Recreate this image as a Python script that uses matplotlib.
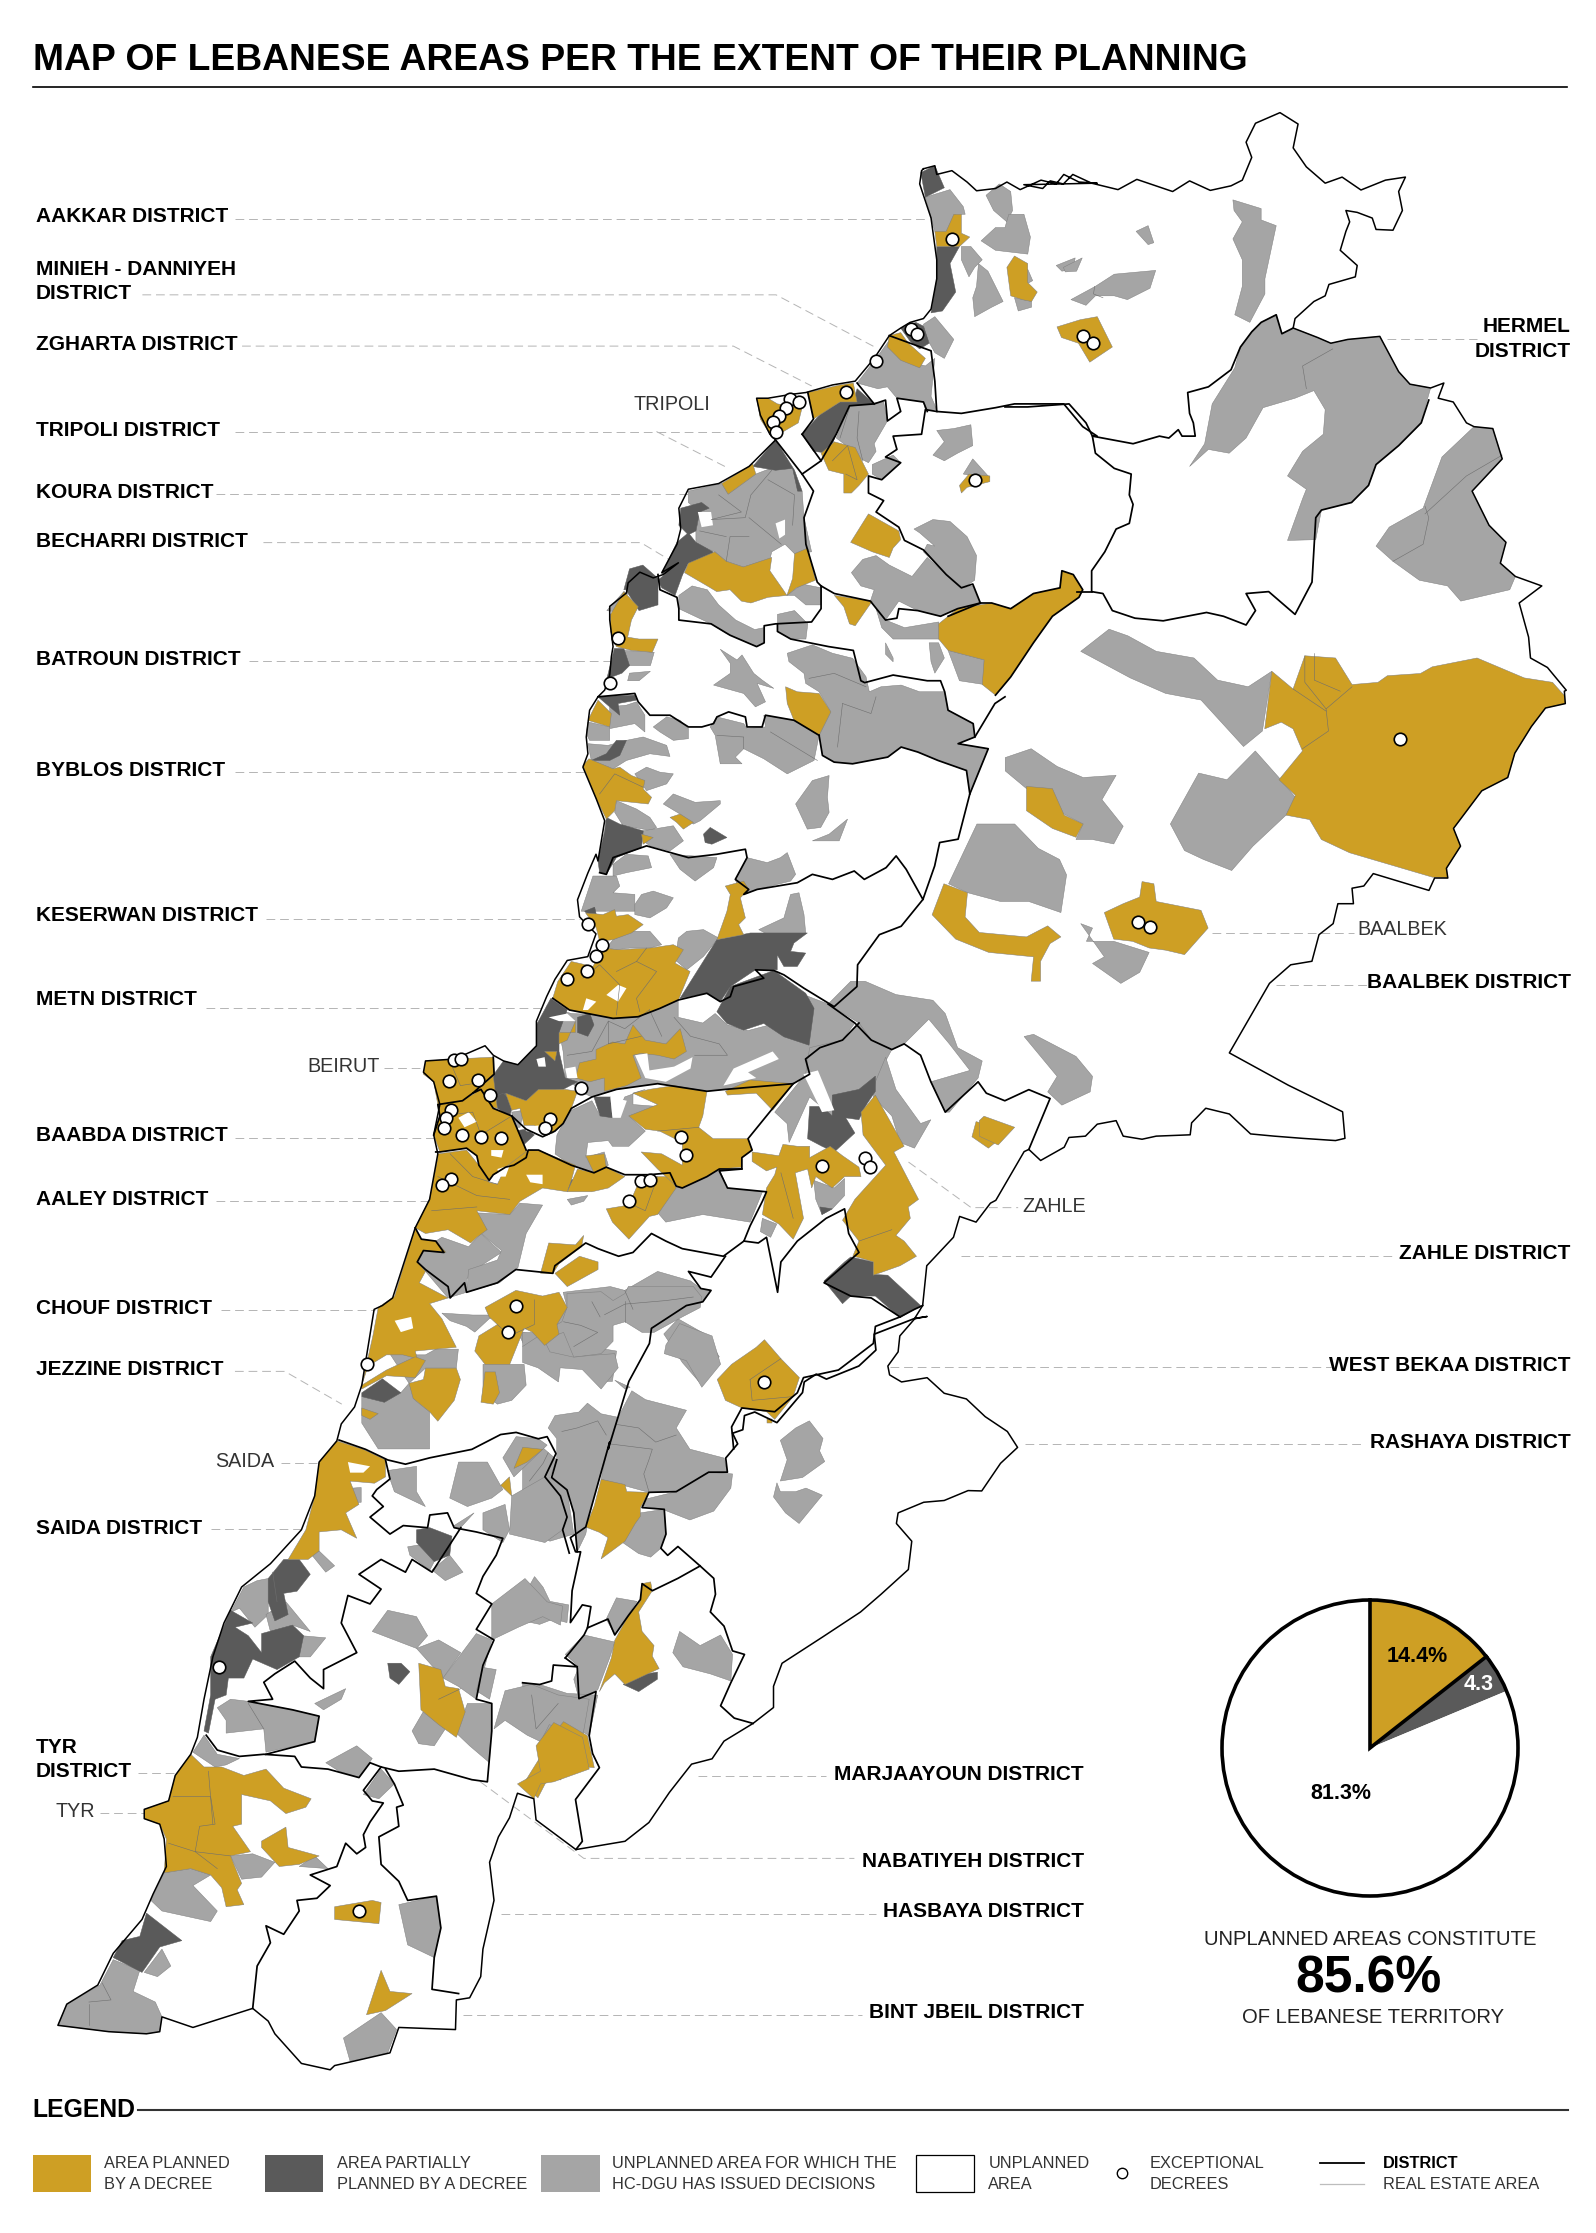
import numpy as np
import matplotlib
matplotlib.use("Agg")
import matplotlib.pyplot as plt
from matplotlib.patches import Polygon, Rectangle, Circle

FONT = ['Liberation Sans', 'DejaVu Sans']
plt.rcParams['font.family'] = FONT

GOLD = '#CE9F24'; DARK = '#5A5A5A'; GREY = '#A5A5A5'

# pie values (%)
PIE_LABELS = ['14.4%', '4.3', '81.3%']
PIE_VALUES = [14.4, 4.3, 81.3]

TITLE = 'MAP OF LEBANESE AREAS PER THE EXTENT OF THEIR PLANNING'

# map reference frames: origin x, origin y, scale x, scale y
FRAMES = {'a': (500, 100, 2.65, 2.65), 'b': (1000, 100, 2.668, 2.65), 'c': (850, 560, 2.13, 2.27),
          'g': (360, 850, 2.446, 2.65), 'e': (40, 1400, 2.27, 2.373), 'd': (520, 1280, 2.944, 2.84),
          'f': (500, 560, 3.0, 3.0)}
MAP_ZOOM = 1.005

OUTLINE = [
 ('a', [(1110,180),(1140,172),(1145,195),(1185,185),(1225,215),(1250,238),(1300,232),(1330,215),(1365,235),(1420,210),(1460,220),(1480,195),(1520,215),(1568,218)]),
 ('b', [(50,222),(100,232),(120,212),(155,220),(180,195),(230,218),(300,235),(350,208),(400,225),(445,240),(490,212),(545,237),(600,225),(630,210),(655,150),(640,110),(665,60),(730,32),(778,62),(765,125),(800,175),(850,218),(895,202),(945,236),(1010,210),(1063,202),(1045,240),(1055,290),(1030,342),(985,340),(975,310),(935,295),(905,290),(915,320),(905,345),(890,395),(935,435),(930,465),(860,485),(850,515),(820,530),(770,575),(765,600),(830,625),(865,640),(910,630),(995,622),(1045,715),(1075,748),(1130,758),(1165,745),(1150,785),(1190,795),(1225,850),(1245,860),(1295,865),(1320,945),(1240,1030),(1285,1120),(1330,1165),(1315,1220),(1355,1255),(1425,1280),(1365,1325),(1390,1415),(1395,1470),(1440,1495),(1490,1555)]),
 ('c', [(1505,290),(1507,318),(1465,328),(1435,370),(1400,430),(1385,485),(1330,515),(1270,600),(1285,640),(1255,690),(1258,712),(1230,712),(1218,740),(1100,702),(1080,730),(1055,735),(1058,770),(1025,770),(1015,815),(985,840),(970,900),(925,908),(880,950),(795,1107),(920,1180),(1035,1240),(1040,1300),(1020,1305),(950,1300),(890,1295),(840,1290),(795,1245),(745,1232),(715,1265),(712,1292),(640,1295),(610,1302),(570,1295),(555,1260),(515,1268),(490,1295),(455,1298),(445,1320),(395,1350),(370,1325),(360,1330),(300,1440)]),
 ('g', [(1530,920),(1495,970),(1455,955),(1440,1010),(1375,1085),(1365,1190),(1345,1225)]),
 ('d', [(1185,85),(1150,90),(1105,140),(1100,185),(1070,225),(1075,250),(1110,270),(1185,258),(1235,302),(1300,318),(1355,368),(1420,410),(1450,455),(1400,500),(1345,578),(1305,577),(1235,605),(1175,610),(1100,640),(1095,670),(1140,720),(1130,800),(1050,870),(990,920),(880,990),(760,1065),(735,1130),(735,1190),(675,1235),(590,1285),(555,1335),(495,1350),(430,1430),(370,1515),(300,1568)]),
 ('e', [(1210,1045),(1120,975),(1115,925),(1078,912),(1060,970),(1035,1015),(1015,1075),(1025,1165),(1000,1280),(995,1345),(970,1395),(940,1400),(938,1470),(810,1465),(790,1525),(665,1555),(655,1565),(590,1550),(530,1480),(515,1450),(480,1420),(345,1465),(275,1440),(270,1475),(240,1480),(155,1475),(40,1460),(60,1410),(130,1365),(165,1290),(230,1210),(255,1150),(285,1085),(280,1020),(270,985),(235,972),(235,950),(290,930),(305,870),(340,820),(355,780),(370,690),(390,590),(415,510),(455,425),(520,370),(590,290),(620,210),(630,130),(670,80),(680,40),(710,0)]),
 ('g', [(0,1400),(30,1200),(50,1190),(75,1170),(130,985),(165,910),(185,790),(175,740),(190,660),(175,600),(150,575),(155,545),(225,540),(300,505),(320,530),(345,545),(380,555),(425,505),(425,440),(450,375),(470,330),(500,280),(550,270),(570,210),(530,165),(525,120),(550,50),(570,0)]),
 ('f', [(285,890),(305,770),(280,705),(240,610),(255,570),(250,520),(260,440),(285,400),(305,380),(320,335),(325,280),(330,250),(320,170),(320,130),(370,90),(375,60),(410,28),(450,45),(480,35),(525,0)]),
 ('a', [(420,1245),(460,1170),(470,1130),(465,1075),(490,1025),(570,1010),(650,965),(700,915),(720,895),(705,880),(680,830),(670,785),(700,785),(760,775),(800,770),(870,750),(930,740),(980,680),(1020,620),(1050,600),(1075,585),(1110,575),(1130,550),(1145,470),(1145,420),(1130,310),(1100,220),(1105,185),(1110,180)]),
]

DISTRICTS = [
 [('a',[(1020,620),(1130,660),(1140,740),(1145,820),(1210,825),(1300,810),(1350,800),(1480,800),(1530,860),(1568,885)]),
  ('b',[(232,885),(340,905),(410,885),(435,890),(460,868),(470,885),(505,885),(500,850),(490,825),(485,770),(540,755),(600,710),(625,650),(655,610),(680,585),(720,565),(735,615),(765,600)])],
 [('b',[(0,808),(60,808),(170,800),(215,850),(232,885),(240,930),(290,970),(335,985),(330,1040),(340,1065),(330,1115),(295,1130),(265,1190),(230,1240),(230,1295),(260,1300),(285,1345),(345,1365),(420,1372),(535,1350),(580,1360),(640,1383),(665,1345),(640,1300),(700,1295),(770,1355),(815,1270),(825,1100),(840,1080),(920,1060),(965,1015),(985,960),(1045,910),(1105,850),(1125,790)])],
 [('a',[(1145,820),(1115,815),(1105,880),(1030,885),(1040,920),(1010,940),(1050,955),(1000,1000),(965,990),(965,1035),(1005,1055),(985,1085),(1045,1125),(1060,1160),(1110,1185),(1170,1250),(1210,1285),(1240,1275),(1260,1325),(1200,1340),(1155,1360),(1095,1345),(1045,1340),(1040,1365),(1010,1370),(970,1320),(875,1300),(840,1280),(840,1340),(815,1375),(720,1380),(690,1385),(690,1430),(670,1440),(600,1410),(550,1380),(465,1370),(465,1340),(460,1310),(415,1290),(410,1250)])],
 [('a',[(720,895),(790,985),(820,1030),(795,1100),(800,1170),(830,1270),(840,1280)])],
 [('a',[(790,985),(840,950)])],
 [('a',[(790,880),(840,950),(880,880),(915,805),(980,800),(1010,790),(1015,845),(1050,820),(1040,785),(1110,795),(1120,820)])],
 [('a',[(805,770),(820,840),(790,880)])],
 [('a',[(935,745),(980,800)])],
 [('a',[(1260,1325),(1290,1325),(1340,1340),(1400,1300),(1470,1285),(1475,1240),(1505,1250),(1530,1290),(1520,1310),(1450,1360),(1400,1430),(1340,1520),(1300,1568)])],
 [('b',[(190,1295),(230,1295)])],
 [('a',[(725,1380),(725,1400),(760,1420),(860,1440),(925,1450),(945,1530),(955,1535),(1030,1515),(1120,1530),(1155,1530)]),
  ('f',[(1320,385),(1330,440),(1405,480),(1410,520),(1360,540),(1450,555),(1395,690)])],
 [('f',[(1410,520),(1470,420),(1500,400)])],
 [('f',[(945,515),(870,470),(785,455),(775,490),(730,490),(725,460),(675,445),(640,460),(630,480),(595,490),(555,490),(500,455),(440,455),(405,415),(395,390),(285,400)])],
 [('f',[(945,515),(955,575),(990,595),(1045,600),(1150,580),(1190,550),(1240,565),(1300,590),(1385,620),(1395,690),(1360,825),(1305,835),(1290,905),(1255,1005),(1205,915),(1175,875),(1145,910),(1080,945),(1050,920),(985,945),(925,930),(880,955),(760,975),(720,990),(735,975),(695,945),(730,880),(725,855),(640,870),(555,880),(430,845),(330,880),(310,930),(290,925)])],
 [('f',[(1255,1005),(1190,1085),(1125,1110),(1060,1200),(1058,1265),(990,1325),(900,1270),(840,1230),(810,1217),(755,1215),(780,1240),(690,1265),(680,1295),(650,1310),(610,1285),(525,1305),(470,1330),(405,1355),(330,1360),(200,1335),(150,1300)])],
 [('g',[(1135,395),(1200,445),(1240,490),(1290,515),(1320,500),(1360,530),(1385,600),(1420,680),(1500,600),(1520,630),(1565,650)]),
  ('c',[(370,1190),(415,1210),(370,1325)])],
 [('g',[(1210,445),(1170,490),(1115,510),(1080,540),(1090,580),(1050,605),(885,620),(840,625),(720,605),(620,620),(560,640),(510,670),(490,710),(470,730),(440,745),(400,725),(365,690),(320,670),(290,620),(270,630),(322,580),(320,535)])],
 [('g',[(1050,605),(1000,670),(940,750),(950,780),(925,800),(925,830),(870,830),(840,850),(780,880),(765,875),(750,840),(700,845),(640,845),(595,825),(565,840),(510,820),(430,780),(405,780),(400,800),(370,820),(350,825),(320,845),(310,860),(285,820),(280,795),(255,775),(190,785),(180,785)])],
 [('g',[(270,630),(245,650),(185,660),(190,690),(175,740)])],
 [('g',[(365,690),(400,780)])],
 [('g',[(925,830),(870,835),(890,880),(985,890),(975,915),(945,980),(930,1020),(905,1040),(880,1060),(780,1040),(740,1020),(705,1000),(660,1050),(625,1060),(575,1040),(545,1025),(470,1085),(465,1105),(375,1095),(330,1130),(255,1155),(250,1130),(215,1170),(210,1140),(155,1095),(135,1075),(150,1045),(200,1050),(180,1020),(145,1015),(130,985)])],
 [('g',[(885,1060),(850,1115),(795,1100),(825,1145),(850,1150),(830,1180),(790,1190),(705,1250),(700,1290),(650,1390),(600,1568)]),
  ('d',[(255,440),(185,680),(140,710),(155,750),(170,750),(145,860),(140,950),(175,900),(200,905),(190,965),(250,940),(270,985),(310,930),(345,885),(350,840),(380,860),(455,825),(520,790)])],
 [('g',[(930,1020),(965,1025),(985,1010),(1012,1155),(1020,1075),(1060,1020),(1130,960),(1175,935),(1185,1000),(1210,1050),(1125,1130),(1190,1165),(1240,1170),(1310,1220),(1345,1200),(1365,1190)])],
 [('g',[(1310,1220),(1250,1245),(1245,1290),(1160,1360),(1075,1380),(1060,1420),(1005,1470),(925,1460),(900,1510),(905,1568)])],
 [('d',[(1150,90),(1030,135),(1035,180),(985,225),(890,262),(860,248),(825,270),(820,300),(745,385),(680,355),(650,365),(645,405),(615,415),(630,445),(595,485),(600,525),(545,525),(450,580),(370,582),(350,625),(415,630),(420,700),(405,740),(425,760),(455,735),(520,790),(560,825),(565,870),(550,920),(590,960),(615,1030),(650,1040),(610,1120),(580,1185),(620,1220),(675,1235)])],
 [('d',[(125,1050),(160,1075),(90,1070),(85,1115),(50,1125),(0,1120)])],
 [('d',[(125,1050),(180,985),(190,965)])],
 [('d',[(160,1075),(165,1165),(215,1145),(195,1270),(205,1320),(225,1360),(155,1450),(175,1568)]),
  ('e',[(1210,1045)])],
 [('d',[(100,490),(85,540),(130,575),(150,640),(160,750)])],
 [('e',[(675,78),(735,100),(785,125),(825,135),(880,120),(975,100),(1040,65),(1075,60),(1125,75),(1145,70),(1165,110),(1140,165),(1175,210),(1190,260),(1180,290),(1195,345)])],
 [('e',[(780,125),(790,170),(760,195),(750,210),(775,235),(745,260),(790,300),(820,280),(875,285),(880,255),(920,250),(935,285),(985,295),(1045,310),(1030,350),(1000,400),(985,440),(1020,465),(985,525),(1025,550),(1000,610),(985,690),(1020,700),(1020,765),(1010,885),(975,880),(890,855),(810,860),(770,850),(745,840),(720,875),(650,855),(590,850),(575,825),(505,820),(450,825),(400,810),(375,775)])],
 [('e',[(950,285),(885,390),(840,360),(825,390),(770,360),(720,395),(770,430),(745,465),(695,445),(680,510),(715,580),(640,620),(640,665),(610,640),(575,600),(530,630),(505,650),(525,690),(470,695),(570,715),(630,730),(620,790),(510,820)])],
 [('e',[(770,850),(730,905),(750,930),(775,935),(745,980),(730,1010),(735,1040),(715,1055),(690,1030),(670,1085),(610,1105),(655,1130),(625,1160),(580,1165),(585,1190),(550,1245),(510,1225),(520,1265),(490,1320),(480,1420)])],
 [('e',[(780,855),(800,890),(820,940),(805,945),(810,990),(765,1015),(770,1080),(810,1120),(830,1165),(895,1155),(905,1230),(890,1300),(885,1375),(945,1385)])],
 [('a',[(1175,1360),(1260,1325)])],
]

GREY_AREAS = [
 ('a',[(1115,255),(1180,235),(1215,280),(1220,300),(1195,300),(1170,345),(1140,345)]),
 ('a',[(1275,250),(1310,220),(1340,240),(1345,290),(1330,320),(1295,290)]),
 ('a',[(1335,300),(1375,300),(1392,360),(1385,405),(1300,395),(1262,370),(1300,335),(1325,335)]),
 ('a',[(1210,385),(1235,385),(1265,420),(1245,440),(1230,465),(1210,420)]),
 ('a',[(1255,430),(1280,450),(1320,530),(1290,545),(1245,570),(1240,520),(1250,490)]),
 ('a',[(1365,450),(1385,445),(1398,475),(1380,485),(1370,470)]),
 ('a',[(1350,520),(1395,530),(1395,545),(1360,555)]),
 ('a',[(1460,435),(1510,415),(1505,445),(1475,450)]),
 ('a',[(935,745),(985,680),(1018,635),(1045,680),(1115,700),(1140,680),(1130,780),(1145,815),(1115,815),(1110,795),(1040,785),(1015,755),(990,760)]),
 ('a',[(1110,590),(1140,570),(1190,630),(1165,680),(1140,665),(1115,620)]),
 ('a',[(915,805),(1005,795),(1015,845),(980,905),(985,925),(965,955),(935,940),(900,905),(880,890)]),
 ('a',[(975,960),(1030,935),(1050,955),(1000,1000),(975,985)]),
 ('a',[(490,1030),(578,1010),(595,1038),(668,985),(720,965),(765,970),(780,1030),(790,1030),(795,1100),(815,1190),(770,1195),(745,1170),(710,1190),(705,1210),(635,1230),(590,1215),(560,1190),(510,1170),(510,1135),(520,1085),(490,1060)]),
 ('a',[(275,1345),(320,1295),(330,1300),(310,1350)]),
 ('a',[(465,1305),(500,1280),(540,1290),(570,1330),(615,1370),(665,1395),(690,1390),(690,1430),(670,1440),(590,1405),(550,1380),(465,1340)]),
 ('a',[(750,1305),(790,1275),(840,1285),(840,1330),(800,1330),(770,1305)]),
 ('a',[(1085,1130),(1135,1105),(1180,1110),(1225,1150),(1250,1200),(1245,1265),(1215,1285),(1170,1250),(1110,1190),(1120,1170),(1140,1175),(1100,1140)]),
 ('a',[(920,1245),(950,1210),(985,1200),(1020,1225),(1080,1255),(1120,1205),(1170,1250),(1210,1285),(1240,1280),(1260,1330),(1200,1340),(1155,1360),(1095,1345),(1045,1320),(1010,1370),(970,1320),(980,1290),(945,1280)]),
 ('a',[(1145,870),(1190,865),(1235,855),(1240,910),(1200,930),(1165,950),(1135,935),(1165,900)]),
 ('a',[(1215,985),(1240,945),(1285,995),(1245,990)]),
 ('a',[(320,1450),(400,1455),(390,1490),(330,1490)]),
 ('a',[(335,1510),(390,1505),(360,1530),(330,1530)]),
 ('a',[(985,1340),(1010,1370),(1060,1390),(1150,1375),(1155,1420),(1060,1420),(1030,1420),(1000,1390)]),
 ('a',[(1125,1430),(1150,1430),(1165,1470),(1140,1510),(1130,1480)]),
 ('a',[(1010,1430),(1030,1470),(1030,1480),(1010,1460)]),
 ('a',[(1175,1450),(1270,1475),(1270,1540),(1205,1530)]),
 ('a',[(725,1355),(770,1345),(805,1380),(800,1420),(760,1420),(725,1400)]),
 ('f',[(650,258),(700,290),(715,275),(750,330),(775,350),(810,375),(760,360),(785,415),(755,430),(720,390),(630,365),(680,330),(680,300)]),
 ('f',[(450,490),(490,460),(530,470),(555,495),(555,525),(510,530),(470,505)]),
 ('f',[(620,490),(640,460),(720,480),(730,495),(785,490),(780,455),(870,470),(945,515),(930,590),(850,630),(780,585),(720,555),(695,580),(715,600),(650,600),(635,515)]),
 ('f',[(850,270),(925,245),(985,270),(1045,285),(1085,340),(1095,385),(1130,370),(1190,365),(1245,385),(1320,385),(1330,440),(1405,480),(1410,520),(1360,540),(1450,555),(1395,690),(1385,620),(1300,590),(1240,565),(1190,550),(1150,580),(1045,600),(990,595),(955,575),(945,515),(980,445),(945,385),(905,360),(900,330),(855,295)]),
 ('f',[(320,430),(370,425),(400,415),(425,455),(425,505),(395,480),(320,495)]),
 ('f',[(255,475),(320,490),(320,530),(260,530),(250,510)]),
 ('f',[(255,540),(315,545),(370,530),(420,520),(490,545),(500,578),(440,570),(370,590),(330,615),(265,590)]),
 ('f',[(395,630),(430,610),(470,625),(510,630),(490,660),(430,680)]),
 ('f',[(340,710),(400,735),(440,760),(460,790),(440,800),(420,795),(360,785),(335,745)]),
 ('f',[(420,800),(510,785),(540,830),(500,860),(440,845),(420,830)]),
 ('f',[(480,720),(510,690),(575,715),(650,710),(650,720),(590,770),(570,780),(530,750)]),
 ('f',[(875,720),(925,650),(975,635),(970,700),(975,745),(950,790),(910,795)]),
 ('f',[(925,830),(975,810),(1030,765),(1005,830)]),
 ('f',[(330,900),(370,870),(435,875),(445,910),(370,925),(330,935)]),
 ('f',[(500,870),(640,880),(630,910),(575,950),(530,915)]),
 ('f',[(695,945),(730,880),(790,895),(830,880),(850,865),(875,930),(860,950),(760,975),(720,990),(700,960)]),
 ('f',[(765,1095),(840,1060),(860,990),(885,985),(900,1050),(905,1105),(820,1125)]),
 ('f',[(525,1120),(550,1100),(600,1095),(645,1120),(600,1175),(550,1215),(515,1185)]),
 ('f',[(235,1040),(270,935),(340,935),(350,965),(330,985),(395,990),(395,1040),(340,1040),(280,1040)]),
 ('f',[(395,1020),(415,990),(450,980),(510,1000),(490,1030),(440,1060),(395,1050)]),
 ('f',[(330,1125),(385,1100),(440,1100),(475,1140),(440,1150),(380,1150),(340,1155),(310,1150)]),
 ('g',[(450,400),(510,420),(620,425),(690,405),(770,385),(770,430),(830,445),(860,420),(890,450),(940,465),(1010,445),(1080,495),(1060,440),(1075,370),(1135,395),(1200,445),(1170,490),(1115,510),(1085,540),(1090,580),(1050,605),(885,620),(840,625),(720,605),(620,620),(560,640),(530,625),(510,600),(495,590),(490,520),(480,465)]),
 ('g',[(1135,395),(1190,335),(1225,335),(1300,370),(1390,385),(1420,420),(1450,510),(1510,545),(1500,590),(1430,680),(1420,680),(1385,600),(1480,570),(1430,500),(1380,435),(1320,500),(1290,515),(1240,490),(1210,445)]),
 ('g',[(365,680),(395,675),(385,720),(370,720)]),
 ('g',[(385,860),(420,870),(385,880)]),
 ('g',[(400,800),(430,810),(445,840),(415,845)]),
 ('g',[(490,710),(510,675),(560,650),(580,690),(620,690),(640,640),(690,620),(660,630),(660,660),(720,665),(650,690),(690,730),(650,770),(610,770),(600,755),(550,760),(545,800),(590,785),(600,820),(565,840),(510,820),(470,790),(475,740)]),
 ('g',[(720,945),(750,880),(790,875),(840,850),(870,830),(890,880),(975,890),(945,970),(830,950),(740,970)]),
 ('g',[(1005,680),(1080,580),(1090,510),(1170,490),(1210,445),(1240,490),(1290,515),(1270,555),(1215,690),(1190,680),(1145,690),(1090,640),(1040,760),(1035,710)]),
 ('g',[(1275,535),(1300,620),(1360,710),(1385,700),(1345,775),(1310,760),(1290,690),(1245,640),(1250,600)]),
 ('g',[(1100,860),(1150,880),(1175,855),(1175,900),(1145,935),(1120,950),(1105,910)]),
 ('g',[(975,960),(1010,975),(995,1010),(970,995)]),
 ('g',[(735,1265),(770,1225),(835,1265),(870,1325),(820,1390),(780,1340)]),
 ('g',[(135,1075),(150,1045),(205,1050),(180,1020),(195,1010),(260,1035),(290,1000),(340,1050),(290,1085),(255,1120),(255,1155),(210,1170),(155,1100)]),
 ('g',[(270,945),(360,950),(385,920),(440,925),(400,1000),(380,1090),(335,1130),(255,1155),(260,1095),(330,1070),(340,1045),(280,990),(305,990)]),
 ('g',[(500,910),(550,900),(540,915),(510,925)]),
 ('g',[(490,1155),(605,1140),(640,1150),(720,1100),(800,1125),(825,1145),(850,1150),(830,1180),(790,1190),(705,1250),(640,1220),(600,1240),(565,1300),(620,1310),(610,1390),(580,1390),(520,1330),(475,1340),(470,1370),(430,1340),(395,1295),(380,1260),(420,1265),(445,1295),(480,1265),(470,1240),(500,1195)]),
 ('g',[(195,1210),(270,1215),(330,1215),(310,1225),(275,1260),(255,1245),(215,1230)]),
 ('g',[(295,1345),(360,1345),(395,1345),(400,1400),(365,1440),(330,1450),(295,1420)]),
 ('g',[(65,1270),(110,1255),(125,1320),(155,1320),(180,1305),(235,1305),(230,1355),(155,1355),(115,1395),(70,1320)]),
 ('g',[(0,1430),(55,1445),(95,1420),(115,1395),(130,1440),(165,1470),(165,1568),(40,1568),(0,1500)]),
 ('d',[(130,20),(230,15),(265,40),(300,20),(310,0),(500,0),(525,30),(520,60),(470,85),(385,130),(350,130),(300,100),(265,110),(265,155),(230,190),(150,200),(120,130),(0,170),(0,130),(60,130),(115,100),(130,60)]),
 ('d',[(420,165),(460,105),(555,140),(580,220),(525,285),(480,210),(415,190)]),
 ('d',[(0,170),(55,135),(80,185),(150,200),(200,195),(270,190),(280,230),(230,290),(175,235),(110,230),(105,270),(45,230),(0,215)]),
 ('d',[(270,265),(315,285),(300,290)]),
 ('d',[(320,295),(360,320),(480,350),(450,400),(490,460),(590,485),(600,525),(545,525),(450,580),(370,582),(230,545),(250,450),(280,370)]),
 ('d',[(365,600),(450,580),(545,525),(615,530),(610,570),(560,635),(490,660),(410,630),(350,620)]),
 ('d',[(295,725),(345,640),(415,630),(420,700),(405,740),(375,765),(340,755)]),
 ('d',[(100,490),(85,540),(130,575),(150,640),(160,750),(185,700),(195,650),(250,450),(280,370),(230,360),(190,330),(165,355),(95,365),(75,400),(100,430)]),
 ('d',[(0,480),(40,440),(100,490),(80,540),(130,575),(150,700),(80,720),(0,680)]),
 ('d',[(755,435),(800,400),(840,380),(880,430),(870,465),(885,495),(820,540),(755,550),(775,490)]),
 ('d',[(735,595),(745,555),(755,580),(800,580),(830,570),(878,590),(810,670),(770,640)]),
 ('d',[(440,1035),(460,975),(520,1015),(580,985),(615,1040),(610,1115),(550,1095),(470,1075)]),
 ('d',[(245,940),(275,880),(335,890),(270,985)]),
 ('d',[(0,880),(35,820),(60,850),(80,890),(135,900),(130,950),(90,940),(50,955),(0,945)]),
 ('d',[(125,1040),(180,985),(270,1005),(255,1050),(220,1140),(165,1165),(150,1110),(165,1075)]),
 ('d',[(0,1120),(50,1125),(130,1150),(220,1155),(195,1270),(130,1230),(100,1240),(75,1285),(30,1255),(0,1200)]),
 ('e',[(660,195),(725,190),(725,225),(685,225)]),
 ('e',[(785,150),(850,140),(850,200),(870,235),(800,200),(790,170)]),
 ('e',[(925,215),(945,130),(1010,130),(1045,195),(1020,215),(965,235)]),
 ('e',[(1000,250),(1050,230),(1060,290),(1045,320),(1000,290)]),
 ('e',[(935,280),(980,250),(945,290)]),
 ('e',[(1065,210),(1140,165),(1175,210),(1190,260),(1180,290),(1140,320),(1060,300)]),
 ('e',[(1075,70),(1125,75),(1145,90),(1070,165),(1045,120)]),
 ('e',[(830,330),(860,325),(890,365),(880,385),(835,350)]),
 ('e',[(885,385),(925,350),(955,390),(915,410)]),
 ('e',[(610,345),(630,340),(665,375),(645,390)]),
 ('e',[(430,485),(460,425),(490,410),(515,405),(515,490),(485,520),(450,475)]),
 ('e',[(590,540),(645,545),(610,590),(585,590)]),
 ('e',[(510,490),(555,460),(610,530),(570,515),(520,530)]),
 ('e',[(620,700),(690,665),(680,690),(640,715)]),
 ('e',[(400,710),(430,690),(470,695),(570,715),(630,730),(620,790),(510,815),(505,760),(420,770),(420,740)]),
 ('e',[(345,815),(370,775),(400,820),(450,830),(420,845),(395,850)]),
 ('e',[(430,1060),(480,1055),(530,1075),(500,1110),(455,1115)]),
 ('e',[(585,1085),(620,1060),(650,1090)]),
 ('e',[(280,1100),(340,1090),(385,1105),(345,1130),(400,1190),(385,1215),(275,1190),(250,1165)]),
 ('e',[(235,1335),(275,1280),(295,1320),(265,1345)]),
 ('e',[(135,1365),(165,1305),(225,1330),(210,1380),(260,1405),(275,1440),(270,1475),(240,1480),(155,1475),(40,1460),(60,1410)]),
 ('e',[(810,1175),(895,1155),(905,1230),(890,1300),(830,1270)]),
 ('e',[(685,1490),(770,1430),(805,1470),(785,1525),(700,1545)]),
 ('e',[(750,530),(785,480),(850,495),(875,540),(850,570),(800,550)]),
 ('e',[(850,570),(900,550),(950,580),(910,640),(880,605)]),
 ('e',[(910,640),(985,535),(1020,550),(985,690),(945,660)]),
 ('e',[(840,765),(865,720),(915,760),(890,800),(855,795)]),
 ('e',[(940,770),(965,700),(1020,700),(1015,840),(970,800)]),
 ('e',[(985,670),(1000,615),(1030,620),(1015,690)]),
 ('e',[(1020,465),(1095,405),(1145,460),(1180,470),(1175,515),(1135,495),(1080,520),(1020,550)]),
 ('e',[(645,840),(715,800),(750,830),(720,875),(675,860)]),
 ('e',[(730,915),(770,855),(800,890),(765,925)]),
 ('e',[(1025,760),(1050,670),(1110,655),(1170,680),(1240,690),(1225,780),(1150,750),(1130,790),(1100,775),(1050,740)]),
 ('c',[(480,200),(540,150),(580,165),(640,200),(720,215),(770,265),(835,280),(885,245),(865,380),(825,415),(735,310),(660,295),(585,260)]),
 ('c',[(320,440),(375,420),(430,460),(485,485),(555,480),(525,535),(570,595),(550,635),(505,625),(470,625),(485,590),(440,565),(420,530),(365,510),(320,470)]),
 ('c',[(200,725),(260,590),(340,590),(390,645),(435,670),(450,705),(438,790),(370,765),(310,765),(240,745)]),
 ('c',[(480,815),(505,825),(492,855),(550,855),(625,880),(605,925),(565,950),(505,905),(530,890)]),
 ('c',[(670,590),(730,475),(790,490),(850,425),(900,485),(935,530),(915,570),(845,640),(800,695),(740,670),(700,650)]),
 ('c',[(360,1070),(380,1065),(470,1115),(505,1160),(500,1195),(440,1225),(410,1195),(430,1160)]),
 ('b',[(605,262),(680,285),(680,315),(720,330),(690,470),(690,510),(650,585),(610,565),(630,490),(630,420),(605,365),(630,320),(608,290)]),
 ('b',[(348,345),(380,330),(395,375),(380,380)]),
 ('b',[(155,440),(205,415),(190,450),(160,452)]),
 ('b',[(175,525),(240,490),(290,458),(400,448),(385,495),(325,525),(290,515),(240,515),(215,540)]),
 ('b',[(490,965),(530,905),(550,800),(610,705),(625,650),(655,610),(680,585),(720,565),(735,615),(765,600),(830,625),(865,640),(910,630),(995,622),(1045,715),(1075,748),(1130,758),(1115,810),(1105,850),(1045,910),(985,960),(965,1015),(920,1060),(840,1080),(825,1158),(750,1160),(790,1050),(800,1025),(750,990),(790,925),(845,880),(850,815),(820,765),(770,785),(685,810),(640,890),(595,930),(540,920)]),
 ('b',[(985,1175),(1020,1125),(1110,1075),(1160,940),(1245,860),(1295,865),(1320,945),(1240,1030),(1285,1120),(1330,1165),(1315,1220),(1355,1255),(1340,1290),(1210,1320),(1175,1280),(1100,1265),(1030,1215)]),
]

DARK_AREAS = [
 ('a',[(1103,190),(1140,172),(1165,230),(1115,255)]),
 ('a',[(1145,385),(1205,385),(1180,430),(1195,505),(1160,555),(1130,560),(1145,470)]),
 ('a',[(1050,600),(1090,585),(1110,595),(1125,640),(1100,655),(1075,635)]),
 ('a',[(935,760),(980,800),(915,805),(880,880),(860,930),(820,925),(790,880),(840,825),(890,795),(925,795)]),
 ('a',[(660,965),(720,895),(770,975),(790,1030),(778,1030),(765,970),(720,975)]),
 ('a',[(470,1075),(525,1060),(545,1075),(520,1085),(510,1135),(490,1145),(465,1120)]),
 ('a',[(460,1165),(490,1140),(510,1165),(555,1190),(555,1210),(490,1220),(475,1250),(420,1248)]),
 ('a',[(410,1265),(445,1235),(475,1250),(455,1305),(420,1285)]),
 ('a',[(320,1290),(335,1235),(370,1225),(410,1260),(410,1330),(360,1345),(325,1290)]),
 ('a',[(295,1445),(320,1445),(335,1490),(315,1510),(275,1525)]),
 ('f',[(285,400),(395,395),(400,410),(345,420),(350,455),(320,430)]),
 ('f',[(265,590),(310,570),(340,530),(370,530),(350,575),(320,590)]),
 ('f',[(310,760),(350,780),(420,800),(415,850),(340,880),(310,930),(290,925),(285,890),(305,800)]),
 ('f',[(600,810),(620,790),(670,820),(625,840),(605,835)]),
 ('f',[(245,1040),(275,1028),(280,1050),(260,1055)]),
 ('f',[(530,1300),(640,1125),(740,1105),(910,1105),(870,1135),(860,1160),(905,1165),(880,1205),(840,1205),(820,1170),(820,1215),(755,1215),(680,1265),(650,1310),(610,1285)]),
 ('f',[(640,1340),(680,1265),(810,1217),(905,1285),(930,1330),(915,1440),(840,1415),(780,1375),(720,1395),(670,1375)]),
 ('g',[(425,450),(460,380),(500,410),(480,470),(480,520),(495,590),(525,600),(490,620),(430,625),(400,650),(370,650),(345,630),(320,640),(315,590),(345,545),(380,555),(425,505)]),
 ('g',[(525,430),(555,420),(565,450),(550,480),(525,470)]),
 ('g',[(320,640),(345,630),(370,655),(360,690),(330,670)]),
 ('g',[(370,730),(400,725),(420,740),(395,765)]),
 ('g',[(505,860),(525,855),(530,880),(500,885)]),
 ('g',[(565,640),(605,640),(610,695),(580,690)]),
 ('g',[(1145,635),(1210,620),(1250,585),(1250,625),(1225,665),(1210,700),(1145,690)]),
 ('g',[(1090,665),(1120,665),(1145,690),(1175,690),(1200,735),(1150,785),(1120,770),(1085,750)]),
 ('g',[(1115,930),(1145,935),(1120,950)]),
 ('g',[(1125,1125),(1175,1075),(1190,1062),(1245,1075),(1245,1108),(1280,1110),(1360,1190),(1310,1222),(1250,1165),(1190,1165),(1170,1185)]),
 ('g',[(0,1420),(50,1383),(95,1420),(55,1445),(0,1430)]),
 ('d',[(295,1125),(330,1100),(395,1090),(395,1110),(340,1145)]),
 ('e',[(850,290),(880,285),(930,305),(925,350),(890,365),(850,320)]),
 ('e',[(515,405),(550,360),(585,360),(610,395),(580,435),(550,440),(560,490),(530,505),(515,460)]),
 ('e',[(370,765),(385,680),(385,590),(430,480),(480,510),(440,520),(470,540),(500,580),(500,535),(570,515),(595,540),(585,590),(535,620),(480,595),(460,640),(425,640),(420,680),(395,690),(380,770)]),
 ('e',[(240,1195),(320,1260),(270,1275),(230,1335),(165,1300),(185,1260),(225,1250)]),
 ('e',[(785,605),(815,605),(835,625),(810,655),(790,640)]),
]

GOLD_AREAS = [
 ('a',[(1330,440),(1350,410),(1385,430),(1385,480),(1410,505),(1395,530),(1370,525),(1340,515)]),
 ('a',[(1140,345),(1170,345),(1190,300),(1210,300),(1210,350),(1232,360),(1205,385),(1145,385)]),
 ('a',[(1020,620),(1050,612),(1070,640),(1115,680),(1100,705),(1050,685),(1015,650)]),
 ('a',[(670,785),(700,785),(725,800),(790,810),(780,850),(720,885),(705,880),(680,840)]),
 ('a',[(805,770),(890,750),(925,745),(935,795),(890,795),(820,840)]),
 ('a',[(840,930),(875,900),(930,915),(965,985),(940,1015),(920,1035),(900,1035),(900,985),(860,975)]),
 ('a',[(578,1010),(660,958),(668,985),(595,1038)]),
 ('a',[(480,1245),(490,1220),(560,1190),(590,1215),(635,1230),(710,1205),(705,1240),(740,1290),(750,1305),(700,1310),(655,1325),(630,1320),(600,1290),(565,1295),(540,1280)]),
 ('a',[(770,1195),(805,1180),(825,1265),(775,1285),(750,1305),(765,1260)]),
 ('a',[(875,1305),(975,1320),(930,1385),(915,1380),(900,1335)]),
 ('a',[(918,1165),(965,1090),(1045,1135),(1050,1158),(1030,1180),(1020,1205),(975,1190)]),
 ('a',[(1205,1015),(1230,985),(1285,990),(1285,1005),(1225,1020),(1210,1035)]),
 ('a',[(285,1355),(320,1295),(358,1335),(340,1370),(330,1415),(360,1420),(410,1420),(395,1455),(340,1450),(300,1440),(285,1400)]),
 ('b',[(138,597),(200,578),(245,570),(285,650),(225,690),(195,640),(150,625)]),
 ('a',[(1150,1380),(1200,1340),(1290,1325),(1340,1340),(1400,1300),(1470,1285),(1475,1240),(1505,1250),(1530,1290),(1520,1310),(1450,1360),(1400,1430),(1340,1520),(1300,1568),(1265,1540),(1270,1475),(1175,1450),(1150,1420)]),
 ('f',[(845,370),(880,385),(945,390),(980,445),(945,515),(870,470),(850,420)]),
 ('f',[(285,410),(325,450),(320,490),(255,470)]),
 ('f',[(240,605),(258,585),(330,615),(350,610),(385,635),(425,650),(420,675),(445,700),(435,720),(340,710),(335,740),(310,765),(280,705)]),
 ('f',[(415,810),(450,820),(420,840)]),
 ('f',[(500,760),(530,750),(570,775),(540,795),(520,775)]),
 ('f',[(665,965),(720,950),(735,975),(710,1000),(725,1060),(705,1080),(720,1110),(640,1125),(670,1040),(680,990)]),
 ('f',[(248,1045),(300,1050),(335,1035),(340,1055),(375,1050),(420,1080),(385,1105),(330,1125),(290,1130),(280,1090)]),
 ('f',[(165,1250),(205,1190),(270,1205),(300,1150),(345,1155),(440,1150),(510,1140),(540,1155),(515,1195),(560,1220),(525,1305),(470,1330),(405,1355),(330,1360),(200,1335),(150,1300)]),
 ('g',[(480,470),(520,470),(520,440),(500,490),(480,500)]),
 ('g',[(445,520),(475,520),(470,545)]),
 ('g',[(570,515),(610,495),(640,500),(660,450),(690,490),(740,500),(775,460),(790,520),(760,540),(720,530),(680,525),(660,530),(680,590),(645,610),(590,625),(590,590),(555,600),(520,590),(530,550),(570,540)]),
 ('g',[(150,580),(155,545),(225,540),(320,535),(322,580),(270,630),(245,650),(185,660),(175,600)]),
 ('g',[(320,585),(330,670),(290,660),(275,625)]),
 ('g',[(185,660),(245,650),(290,620),(320,670),(365,690),(400,780),(405,800),(370,820),(320,845),(310,860),(285,820),(280,795),(255,775),(190,785),(175,740),(190,690)]),
 ('g',[(350,630),(400,650),(430,620),(495,620),(525,625),(510,670),(490,710),(465,735),(440,740),(420,715),(395,715),(385,670),(365,675)]),
 ('g',[(185,790),(255,780),(285,820),(310,865),(330,870),(350,825),(405,780),(430,780),(520,820),(510,860),(500,890),(440,880),(385,915),(360,950),(280,940),(305,990),(280,1010),(265,1025),(210,990),(155,1000),(130,985),(165,910),(185,800)]),
 ('g',[(525,830),(565,840),(595,825),(640,850),(600,880),(560,890),(500,890)]),
 ('g',[(595,935),(650,925),(680,850),(750,850),(765,880),(720,950),(700,955),(650,1015),(610,970)]),
 ('g',[(435,1105),(455,1025),(520,1030),(540,1005),(535,1035),(480,1080),(465,1105)]),
 ('g',[(470,1105),(530,1060),(575,1075),(575,1095),(500,1140)]),
 ('g',[(27,1270),(40,1195),(80,1165),(130,985),(145,1015),(180,1020),(205,1050),(150,1045),(135,1075),(155,1100),(140,1130),(210,1170),(165,1185),(195,1225),(230,1300),(130,1310),(135,1330),(100,1320),(60,1320),(15,1350),(0,1400)]),
 ('g',[(300,1195),(375,1150),(440,1165),(480,1155),(500,1195),(475,1240),(480,1265),(445,1295),(415,1260),(395,1250),(360,1345),(300,1345),(275,1310),(285,1270),(330,1240),(310,1220)]),
 ('g',[(300,1365),(325,1365),(335,1420),(320,1450),(290,1445)]),
 ('g',[(115,1395),(150,1385),(155,1355),(230,1355),(240,1385),(225,1440),(185,1495),(165,1470),(125,1435)]),
 ('g',[(0,1400),(60,1360),(130,1325),(155,1335),(130,1380),(60,1375),(0,1410)]),
 ('g',[(0,1460),(40,1475),(20,1490),(0,1480)]),
 ('g',[(660,630),(700,620),(760,610),(840,625),(830,690),(820,720),(855,750),(940,750),(950,780),(925,800),(925,825),(870,830),(840,850),(780,880),(765,875),(720,830),(680,785),(730,790),(780,820),(780,760),(725,730),(690,725),(650,690),(720,660)]),
 ('g',[(885,625),(945,595),(1050,605),(1000,675),(960,630),(890,635)]),
 ('g',[(545,795),(590,790),(595,825),(565,840)]),
 ('g',[(1215,680),(1250,635),(1320,770),(1295,785),(1355,910),(1330,930),(1335,960),(1300,1005),(1320,1020),(1350,1060),(1310,1085),(1245,1110),(1245,1075),(1215,1065),(1195,1060),(1210,1020),(1170,965),(1200,910),(1275,820),(1220,740)]),
 ('g',[(1025,765),(1060,770),(1090,770),(1090,800),(1140,770),(1170,795),(1210,825),(1215,850),(1175,850),(1145,880),(1105,850),(1095,880),(1085,830),(1055,840),(1075,960),(1050,1015),(1015,975),(975,950),(985,880),(1005,845),(1010,825),(985,835),(950,810),(950,785),(1015,795)]),
 ('g',[(865,1385),(900,1345),(960,1300),(980,1280),(1020,1330),(1065,1380),(1050,1430),(1005,1490),(985,1470),(925,1460),(885,1440)]),
 ('g',[(1495,705),(1568,725),(1565,740),(1525,775),(1485,745)]),
 ('d',[(185,680),(210,620),(230,545),(300,560),(305,580),(370,582),(345,625),(345,650),(330,670),(300,720),(230,770),(250,710),(225,695)]),
 ('d',[(225,1145),(260,1050),(270,1000),(310,930),(345,890),(350,840),(375,835),(380,860),(340,920),(350,975),(385,1015),(380,1045),(400,1080),(300,1125),(270,1095),(240,1120)]),
 ('d',[(0,1410),(55,1325),(60,1300),(120,1230),(190,1270),(210,1360),(150,1355),(110,1395),(85,1370),(45,1445)]),
 ('d',[(715,375),(730,375),(730,385),(715,385)]),
 ('e',[(560,360),(600,290),(620,210),(630,130),(670,80),(730,100),(780,125),(780,165),(755,180),(700,175),(720,230),(690,250),(715,310),(680,290),(630,295),(630,340),(605,360)]),
 ('e',[(1040,185),(1060,165),(1065,210)]),
 ('e',[(1070,145),(1090,95),(1135,100),(1100,130)]),
 ('e',[(305,870),(340,820),(370,850),(410,850),(460,870),(510,855),(550,900),(612,925),(600,945),(555,960),(520,930),(455,915),(455,985),(435,990),(475,1050),(430,1060),(455,1125),(445,1140),(460,1175),(420,1180),(410,1135),(385,1105),(340,1090),(280,1100),(285,1020),(270,985),(235,972),(235,950),(290,930)]),
 ('e',[(500,1025),(555,992),(560,1040),(630,1060),(585,1080),(540,1085),(500,1040)]),
 ('e',[(665,1180),(750,1165),(770,1170),(765,1220),(665,1210)]),
 ('e',[(737,1435),(770,1330),(790,1380),(840,1385),(780,1425)]),
 ('e',[(855,605),(905,620),(915,660),(945,665),(960,720),(940,780),(900,750),(860,715)]),
 ('e',[(1078,890),(1130,860),(1120,800),(1160,745),(1225,780),(1240,855),(1160,885),(1130,890),(1115,925)]),
 ('c',[(870,375),(885,245),(930,285),(955,210),(1020,215),(1055,275),(1110,270),(1130,255),(1200,250),(1225,235),(1320,215),(1420,260),(1480,270),(1505,300),(1507,318),(1465,328),(1435,370),(1400,430),(1385,485),(1330,515),(1270,600),(1285,640),(1255,690),(1258,712),(1225,710),(1050,655),(990,625),(965,580),(915,570),(935,525),(900,490),(950,425),(930,375),(905,360)]),
 ('c',[(365,505),(420,510),(445,570),(485,590),(470,620),(420,600),(365,560)]),
 ('c',[(190,725),(240,745),(235,800),(265,835),(365,845),(410,820),(438,845),(415,860),(395,900),(395,945),(375,945),(380,890),(285,880),(215,850),(165,795)]),
 ('c',[(530,790),(570,770),(605,755),(610,720),(635,725),(640,765),(735,785),(750,825),(700,885),(660,875),(625,870),(590,855),(550,850)]),
 ('c',[(265,1260),(275,1250),(340,1275),(305,1315),(265,1295)]),
]

HOLES = [
 ('a',[(515,1085),(550,1085),(555,1120),(525,1125)]),
 ('a',[(720,1115),(745,1105),(745,1145),(730,1155)]),
 ('f',[(310,1290),(345,1260),(370,1270),(345,1310)]),
 ('f',[(240,1335),(250,1300),(280,1310),(255,1335)]),
 ('g',[(880,610),(905,565),(1000,520),(1015,540),(940,575),(960,590)]),
 ('g',[(455,430),(500,420),(520,440),(480,440)]),
 ('g',[(665,530),(695,525),(700,570),(760,560),(805,535),(800,565),(740,600),(690,590)]),
 ('g',[(425,540),(445,535),(448,560),(430,560)]),
 ('g',[(495,565),(520,560),(525,590),(500,590)]),
 ('g',[(235,695),(260,680),(280,705),(250,720)]),
 ('g',[(315,780),(345,780),(340,800),(315,795)]),
 ('g',[(395,720),(430,715),(430,735),(400,730)]),
 ('g',[(395,770),(440,745),(470,750),(470,790),(420,780)]),
 ('g',[(330,830),(360,820),(350,850),(335,850)]),
 ('g',[(400,845),(440,845),(440,870),(410,865)]),
 ('g',[(605,640),(645,650),(630,695),(610,695)]),
 ('g',[(1075,580),(1110,570),(1150,675),(1120,680)]),
 ('g',[(80,1230),(120,1220),(125,1250),(95,1260)]),
 ('e',[(695,130),(745,140),(730,155),(700,155)]),
]

THIN = [
 ('b',[(870,655),(790,700),(800,760)]),
 ('b',[(1115,1070),(1125,1100),(1110,1170),(1030,1215)]),
 ('b',[(1115,1090),(1225,990),(1320,935)]),
 ('b',[(238,490),(235,510),(260,520)]),
 ('c',[(955,210),(955,270),(1000,330),(1055,280)]),
 ('c',[(975,205),(975,265),(1030,290)]),
 ('c',[(1000,330),(1005,380),(950,420)]),
 ('c',[(930,285),(1000,335)]),
 ('a',[(570,1040),(630,1085),(550,1105),(640,1100),(655,1040),(710,975)]),
 ('a',[(650,1100),(735,1170)]),
 ('a',[(700,1000),(770,1040),(765,1120)]),
 ('a',[(590,1215),(600,1150),(650,1150)]),
 ('a',[(520,1135),(590,1150)]),
 ('a',[(890,890),(915,810)]),
 ('a',[(940,820),(935,890),(950,950)]),
 ('a',[(870,950),(910,910),(935,1000),(905,985)]),
 ('f',[(240,1240),(290,1200),(350,1260),(340,1350)]),
 ('f',[(340,1220),(400,1190),(460,1220),(400,1300),(410,1340)]),
 ('f',[(400,1190),(430,1150)]),
 ('f',[(290,690),(335,630),(420,670)]),
 ('f',[(800,505),(940,590)]),
 ('f',[(640,515),(720,520),(720,555)]),
 ('f',[(1015,420),(1100,450),(1115,400)]),
 ('f',[(1000,550),(1015,420)]),
 ('f',[(915,345),(990,330),(1085,370)]),
 ('g',[(500,530),(560,520),(600,440),(640,460),(700,410)]),
 ('g',[(600,440),(600,500),(680,480)]),
 ('g',[(760,430),(800,480),(870,500),(890,530),(810,530)]),
 ('g',[(700,410),(730,480)]),
 ('g',[(215,790),(270,850),(330,870)]),
 ('g',[(185,850),(280,900),(360,910)]),
 ('g',[(170,940),(280,930)]),
 ('g',[(190,690),(270,680),(290,740),(365,690)]),
 ('g',[(220,560),(240,610),(300,600)]),
 ('g',[(720,730),(820,720)]),
 ('g',[(650,920),(690,940),(720,850)]),
 ('g',[(420,1175),(420,1240),(360,1270),(330,1240)]),
 ('g',[(945,1385),(1020,1330)]),
 ('g',[(945,1385),(950,1440),(1050,1430)]),
 ('g',[(1210,1020),(1290,990)]),
 ('g',[(1020,840),(1050,960)]),
 ('g',[(660,1200),(640,1150)]),
 ('g',[(580,1220),(560,1180)]),
 ('d',[(240,80),(300,50),(420,40),(500,30)]),
 ('d',[(300,40),(300,100)]),
 ('d',[(120,100),(170,110),(220,130),(150,170)]),
 ('d',[(275,390),(340,400),(390,440),(450,420)]),
 ('d',[(255,445),(380,460),(370,490),(355,530),(370,580)]),
 ('d',[(115,410),(160,400),(220,380),(245,420)]),
 ('d',[(20,550),(60,500),(75,470)]),
 ('e',[(1110,680),(1120,760),(1170,700)]),
 ('e',[(300,920),(385,920),(395,985),(360,990),(350,1050),(430,1060)]),
 ('e',[(380,860),(390,985)]),
 ('e',[(290,1030),(350,1050),(400,1090)]),
 ('e',[(110,1410),(110,1460)]),
 ('e',[(110,1405),(160,1400),(140,1360)]),
 ('e',[(525,390),(535,460)]),
 ('e',[(470,700),(505,760)]),
 ('e',[(900,690),(950,665)]),
]

DOTS = [
 ('a',[(1185,365),(1078,602),(1093,616),(985,688),(906,769),(757,788),(783,794),(748,812),(729,833),(712,848),(722,873),(1247,1000),(305,1417),(283,1535)]),
 ('b',[(207,620),(234,640)]),
 ('c',[(1157,397),(601,812),(627,822)]),
 ('g',[(550,185),(584,238),(570,268),(549,309),(499,329),(224,543),(242,541),(213,599),(282,595),(312,636),(217,674),(204,695),(201,721),(243,741),(289,746),(340,747),(457,698),(445,721),(534,617),(777,745),(788,792),(1120,823),(680,862),(702,860),(216,856),(196,873),(651,915),(375,1192),(355,1261),(978,1392),(13,1344),(1225,800),(1237,825)]),
 ('e',[(404,615),(720,1191)]),
]

# text in the 1130-wide reading of the page
LEFT_LABELS = [('AAKKAR DISTRICT',151),('MINIEH - DANNIYEH',188),('DISTRICT',205),('ZGHARTA DISTRICT',241),
 ('TRIPOLI DISTRICT',301),('KOURA DISTRICT',345),('BECHARRI DISTRICT',379),('BATROUN DISTRICT',462),
 ('BYBLOS DISTRICT',540),('KESERWAN DISTRICT',642),('METN DISTRICT',701),('BAABDA DISTRICT',796),
 ('AALEY DISTRICT',841),('CHOUF DISTRICT',918),('JEZZINE DISTRICT',961),('SAIDA DISTRICT',1072),
 ('TYR',1226),('DISTRICT',1243)]
RIGHT_LABELS = [('HERMEL',228,1103),('DISTRICT',246,1103),('BAALBEK DISTRICT',689,1103),('ZAHLE DISTRICT',879,1103),
 ('WEST BEKAA DISTRICT',958,1103),('RASHAYA DISTRICT',1012,1103),('MARJAAYOUN DISTRICT',1245,761),
 ('NABATIYEH DISTRICT',1306,761),('HASBAYA DISTRICT',1341,761),('BINT JBEIL DISTRICT',1412,761)]
CITY_LABELS = [('TRIPOLI',445,283),('BEIRUT',216,748),('SAIDA',151,1025),('TYR',39,1271),('BAALBEK',953,652),('ZAHLE',718,846)]
LEADERS = [
 [(165,152.5),(650,152.5)],[(100,206),(545,206),(615,243)],[(170,242),(515,242),(570,270)],
 [(165,302),(538,302)],[(461,302),(510,327)],[(152,346),(483,346)],[(185,380),(450,380),(470,392)],
 [(175,463),(430,463)],[(165,541),(410,541)],[(187,644),(407,644)],[(145,707),(384,707)],[(270,749),(296,749)],
 [(165,798),(306,798)],[(152,842),(302,842)],[(155,919),(263,919)],[(165,962),(200,962),(240,985)],
 [(197,1026),(224,1026)],[(148,1073),(212,1073)],[(97,1244),(122,1244)],[(70,1272),(101,1272)],
 [(974,237),(1037,237)],[(851,654),(951,654)],[(896,691),(961,691)],[(638,815),(682,847),(715,847)],
 [(675,881),(980,881)],[(625,959),(935,959)],[(720,1013),(958,1013)],[(490,1246),(580,1246)],
 [(337,1250),(410,1304),(600,1304)],[(352,1343),(615,1343)],[(325,1414),(605,1414)],
]
LEGEND_SWATCHES = [(23,GOLD,'none'),(186,DARK,'none'),(380,GREY,'none'),(643,'white','black')]
LEGEND_TEXT = [('AREA PLANNED',73,1518),('BY A DECREE',73,1533),('AREA PARTIALLY',237,1518),('PLANNED BY A DECREE',237,1533),
 ('UNPLANNED AREA FOR WHICH THE',430,1518),('HC-DGU HAS ISSUED DECISIONS',430,1533),('UNPLANNED',694,1518),('AREA',694,1533),
 ('EXCEPTIONAL',807,1518),('DECREES',807,1533),('REAL ESTATE AREA',971,1533)]

SX, SY = 1.424, 1.424
DY = 1.5


def to_px(frame, pts):
    ox, oy, fx, fy = FRAMES[frame]
    arr = np.array(pts, dtype=float)
    return np.column_stack((ox + arr[:, 0] / fx, oy + arr[:, 1] / fy)) * MAP_ZOOM


def chain(parts):
    return np.vstack([to_px(f, p) for f, p in parts])


fig = plt.figure(figsize=(15.96, 22.33), dpi=100)
ax = fig.add_axes([0, 0, 1, 1])
ax.set_xlim(0, 1596); ax.set_ylim(2233, 0); ax.axis('off')

for rows, col, z in ((GREY_AREAS, GREY, 2), (DARK_AREAS, DARK, 3), (GOLD_AREAS, GOLD, 4)):
    for f, p in rows:
        ax.add_patch(Polygon(to_px(f, p), closed=True, fc=col, ec='#808080' if col != DARK else DARK, lw=0.35, zorder=z))
for f, p in HOLES:
    ax.add_patch(Polygon(to_px(f, p), closed=True, fc='white', ec='none', zorder=5))
for f, p in THIN:
    xy = to_px(f, p)
    ax.plot(xy[:, 0], xy[:, 1], color='#6e6e6e', lw=0.4, zorder=6)
for parts in DISTRICTS:
    xy = chain(parts)
    ax.plot(xy[:, 0], xy[:, 1], color='black', lw=1.25, solid_joinstyle='round', zorder=7)
xy = chain(OUTLINE)
ax.plot(xy[:, 0], xy[:, 1], color='black', lw=1.1, solid_joinstyle='round', zorder=7)
for f, p in DOTS:
    xy = to_px(f, p)
    ax.plot(xy[:, 0], xy[:, 1], 'o', ms=9.0, mfc='white', mec='black', mew=1.2, zorder=9, ls='none')

for pts in LEADERS:
    arr = np.array(pts) * (SX, SY)
    ax.plot(arr[:, 0], arr[:, 1] + DY, color='#b4b4b4', lw=0.7, ls=(0, (9, 5)), zorder=1)

ax.text(33, 60, TITLE, fontsize=26.8, fontweight='bold', va='center', ha='left', color='black')
ax.plot([33, 1567], [87, 87], color='black', lw=1.2)
for t, y in LEFT_LABELS:
    ax.text(25 * SX, y * SY + DY, t, fontsize=15.0, fontweight='bold', va='center', ha='left', color='black')
for t, y, x in RIGHT_LABELS:
    ax.text(x * SX, y * SY + DY, t, fontsize=15.0, fontweight='bold', va='center', ha='right', color='black')
for t, x, y in CITY_LABELS:
    ax.text(x * SX, y * SY + DY, t, fontsize=14.2, va='center', ha='left', color='#333333')

# legend
ax.text(23 * SX, 1481 * SY + DY, 'LEGEND', fontsize=17.8, fontweight='bold', va='center', ha='left')
ax.plot(np.array([97, 1101]) * SX, np.array([1481, 1481]) * SY + DY, color='#333333', lw=1.5)
for x, c, e in LEGEND_SWATCHES:
    ax.add_patch(Rectangle((x * SX, 1512 * SY + DY), 41 * SX, 26 * SY, fc=c, ec=e, lw=0.9))
for t, x, y in LEGEND_TEXT:
    ax.text(x * SX, y * SY + DY, t, fontsize=11.8, va='center', ha='left', color='#333333')
ax.text(971 * SX, 1518 * SY + DY, 'DISTRICT', fontsize=11.8, fontweight='bold', va='center', ha='left')
ax.plot(np.array([788]) * SX, np.array([1525]) * SY + DY, 'o', ms=7.5, mfc='white', mec='black', mew=1.0)
ax.plot(np.array([927, 958]) * SX, np.array([1518, 1518]) * SY + DY, color='black', lw=1.3)
ax.plot(np.array([927, 958]) * SX, np.array([1533, 1533]) * SY + DY, color='#bdbdbd', lw=0.9)

# pie caption
ax.text(962 * SX, 1361 * SY + DY, 'UNPLANNED AREAS CONSTITUTE', fontsize=14.6, va='center', ha='center', color='#222222')
ax.text(961 * SX, 1389 * SY + DY, '85.6%', fontsize=37.2, fontweight='bold', va='center', ha='center', color='black')
ax.text(964 * SX, 1416 * SY + DY, 'OF LEBANESE TERRITORY', fontsize=14.6, va='center', ha='center', color='#222222')

# pie
CX, CY, R = 1370, 1748, 148
half = R * 1.1
pa = fig.add_axes([(CX - half) / 1596, 1 - (CY + half) / 2233, 2 * half / 1596, 2 * half / 2233])
pa.pie(PIE_VALUES, colors=[GOLD, DARK, 'white'], startangle=90, counterclock=False, radius=1.0,
       wedgeprops={'linewidth': 0})
pa.set_xlim(-1.1, 1.1); pa.set_ylim(-1.1, 1.1); pa.set_aspect('equal')
pa.add_patch(Circle((0, 0), 1.0, fc='none', ec='black', lw=2.6, zorder=5))
a1 = np.pi / 2 - PIE_VALUES[0] / 100 * 2 * np.pi
pa.plot([0, 0, np.cos(a1)], [1, 0, np.sin(a1)], color='black', lw=2.6, zorder=5, solid_joinstyle='miter')
pa.text(0.32, 0.62, PIE_LABELS[0], fontsize=15.5, fontweight='bold', ha='center', va='center', color='black', zorder=6)
pa.text(0.735, 0.43, PIE_LABELS[1], fontsize=15.5, fontweight='bold', ha='center', va='center', color='white', zorder=6)
pa.text(-0.195, -0.31, PIE_LABELS[2], fontsize=15.5, fontweight='bold', ha='center', va='center', color='black', zorder=6)

fig.savefig('out.png', dpi=100)
